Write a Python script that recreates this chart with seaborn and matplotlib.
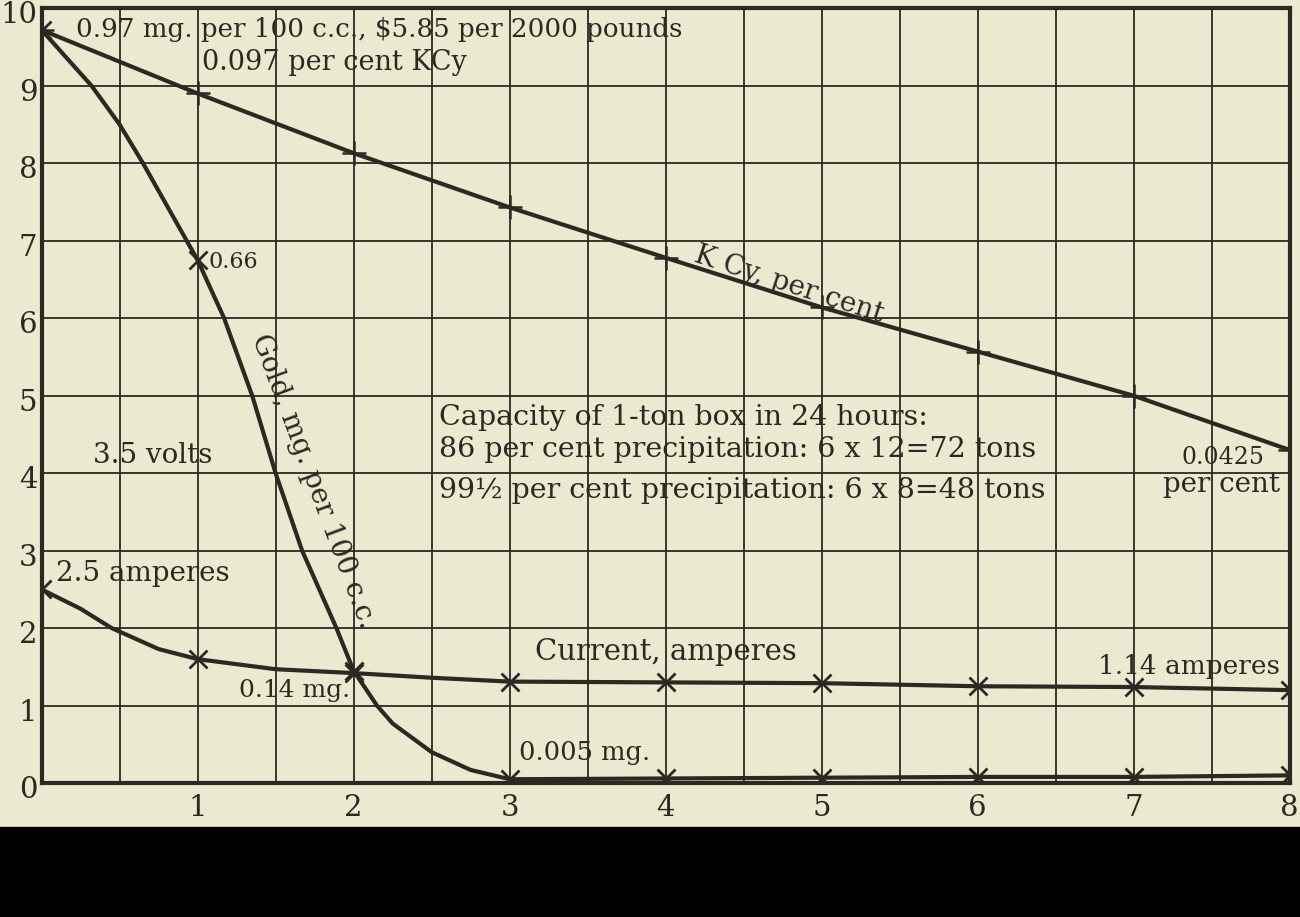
import numpy as np
import pandas as pd
import matplotlib
matplotlib.use('Agg')
import matplotlib.pyplot as plt
import matplotlib.transforms as mtrans
import seaborn as sns

# Data
hours = [0, 1, 2, 3, 4, 5, 6, 7, 8]
kcy_per_cent = [9.72, 8.9, 8.13, 7.43, 6.78, 6.14, 5.57, 5.0, 4.3]

gold_x = [0, 0.32, 0.5, 0.65, 0.93, 1, 1.17, 1.35, 1.5, 1.67, 1.89, 2, 2.15, 2.25,
          2.5, 2.75, 3, 4, 5, 6, 7, 8]
gold_mg = [9.72, 9.0, 8.5, 8.0, 7.0, 6.75, 6.0, 5.0, 4.0, 3.0, 2.0, 1.45, 1.0, 0.77,
           0.4, 0.17, 0.05, 0.06, 0.07, 0.08, 0.08, 0.1]
gold_marks = [9.72, 6.75, 1.45, 0.05, 0.06, 0.07, 0.08, 0.08, 0.1]

current_x = [0, 0.25, 0.45, 0.75, 1, 1.5, 2, 2.5, 3, 4, 5, 6, 7, 8]
current_amp = [2.5, 2.25, 2.0, 1.73, 1.6, 1.47, 1.42, 1.36, 1.31, 1.3, 1.29, 1.25,
               1.24, 1.2]
current_marks = [2.5, 1.6, 1.42, 1.31, 1.3, 1.29, 1.25, 1.24, 1.2]

x_ticks = [1, 2, 3, 4, 5, 6, 7, 8]
y_ticks = [0, 1, 2, 3, 4, 5, 6, 7, 8, 9, 10]

paper = '#ebe9d0'
ink = '#2b2a22'

sns.set_style('white')
plt.rcParams['font.family'] = ['DejaVu Serif']

fig = plt.figure(figsize=(13, 9.17), dpi=100)
fig.patch.set_facecolor(paper)
ax = fig.add_axes([0.032, 0.146, 0.960, 0.845])
ax.set_facecolor(paper)

# grid: every half unit across, every unit up
for gx in np.arange(0.5, 8, 0.5):
    ax.axvline(gx, color=ink, lw=1.3, zorder=1)
for gy in range(1, 10):
    ax.axhline(gy, color=ink, lw=1.3, zorder=1)

kcy = pd.DataFrame({'x': hours, 'y': kcy_per_cent})
sns.lineplot(data=kcy, x='x', y='y', color=ink, lw=3, marker='+', markersize=17,
             markeredgewidth=1.8, markeredgecolor=ink, ax=ax, zorder=3)

gold = pd.DataFrame({'x': gold_x, 'y': gold_mg})
sns.lineplot(data=gold, x='x', y='y', color=ink, lw=3, ax=ax, zorder=3)
ax.plot(hours, gold_marks, ls='none', marker='x', ms=13, mew=2, color=ink, zorder=4)

current = pd.DataFrame({'x': current_x, 'y': current_amp})
sns.lineplot(data=current, x='x', y='y', color=ink, lw=3, ax=ax, zorder=3)
ax.plot(hours, current_marks, ls='none', marker='x', ms=13, mew=2, color=ink, zorder=4)

ax.set_xlim(0, 8)
ax.set_ylim(0, 10)
ax.set_xticks(x_ticks)
ax.set_yticks(y_ticks)
ax.set_xlabel('')
ax.set_ylabel('')
ax.tick_params(length=0, labelsize=21, colors=ink)
ax.tick_params(axis='x', pad=8)
ax.tick_params(axis='y', pad=3)
shift = mtrans.ScaledTranslation(0, -3 / 72, fig.dpi_scale_trans)
for lab in ax.get_yticklabels():
    lab.set_transform(lab.get_transform() + shift)
for s in ax.spines.values():
    s.set_color(ink)
    s.set_linewidth(3)

ax.text(0.22, 9.72, '0.97 mg. per 100 c.c., $5.85 per 2000 pounds', fontsize=18.8,
        color=ink, va='center')
ax.text(1.03, 9.3, '0.097 per cent KCy', fontsize=19.5, color=ink, va='center')
ax.text(1.07, 6.72, '0.66', fontsize=16, color=ink, va='center')
ax.text(1.74, 3.9, 'Gold, mg. per 100 c.c.', fontsize=20, color=ink, rotation=-69.5,
        ha='center', va='center', rotation_mode='anchor')
ax.text(4.79, 6.43, 'K Cy, per cent', fontsize=20, color=ink, rotation=-18,
        ha='center', va='center', rotation_mode='anchor')
ax.text(0.71, 4.23, '3.5 volts', fontsize=20, color=ink, ha='center', va='center')
ax.text(0.09, 2.71, '2.5 amperes', fontsize=20, color=ink, va='center')
ax.text(1.98, 1.2, '0.14 mg.', fontsize=18, color=ink, ha='right', va='center')
ax.text(4.0, 1.69, 'Current, amperes', fontsize=21, color=ink, ha='center', va='center')
ax.text(7.94, 1.5, '1.14 amperes', fontsize=19, color=ink, ha='right', va='center')
ax.text(3.06, 0.39, '0.005 mg.', fontsize=18.5, color=ink, va='center')
ax.text(2.55, 4.72, 'Capacity of 1-ton box in 24 hours:', fontsize=20.5, color=ink,
        va='center')
ax.text(2.55, 4.3, '86 per cent precipitation: 6 x 12=72 tons', fontsize=20.5,
        color=ink, va='center')
ax.text(2.55, 3.78, '99½ per cent precipitation: 6 x 8=48 tons', fontsize=20.5,
        color=ink, va='center')
ax.text(7.84, 4.2, '0.0425', fontsize=17, color=ink, ha='right', va='center')
ax.text(7.94, 3.85, 'per cent', fontsize=20, color=ink, ha='right', va='center')

# dark strip along the foot of the scan
fig.add_artist(plt.Rectangle((0, 0), 1, 90 / 917, transform=fig.transFigure,
                             color='black', zorder=0))

fig.savefig('out.png', dpi=100, facecolor=paper)
